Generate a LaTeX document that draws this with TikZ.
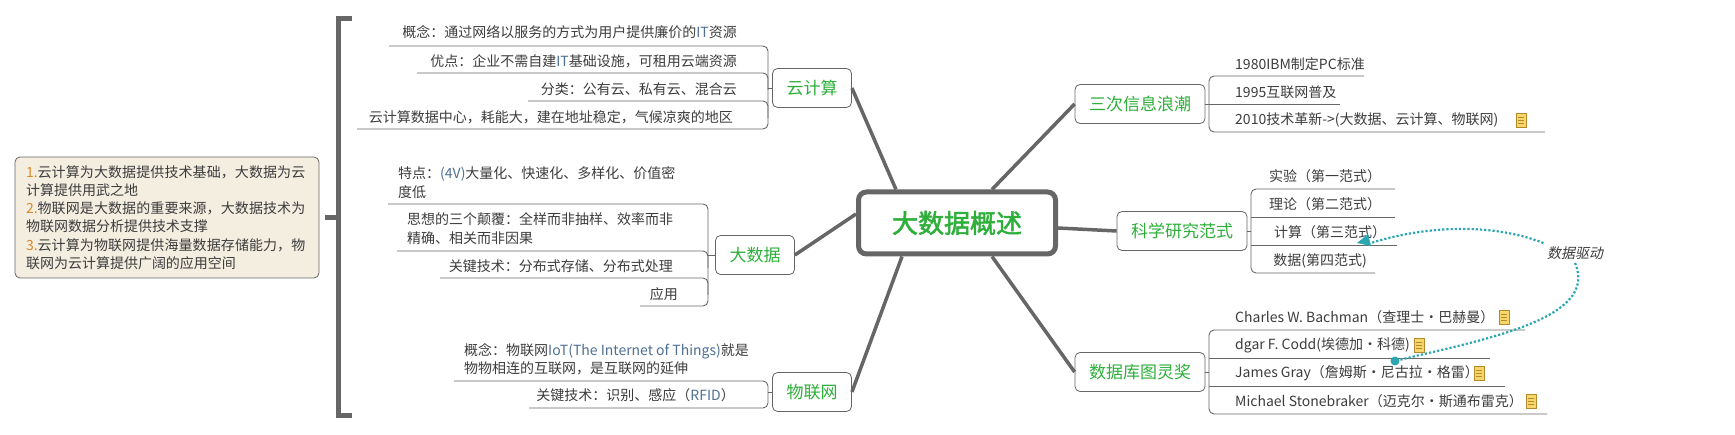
\documentclass[tikz,border=0pt]{standalone}
\usepackage{fontspec}
\usepackage{tikz}
\usepackage{xcolor}
\usetikzlibrary{arrows.meta}
\XeTeXlinebreaklocale "zh"
\XeTeXlinebreakskip=0pt plus 1pt
\newfontfamily\cjk{Noto Sans CJK SC}
\newfontfamily\cjkb[FakeBold=2]{Noto Sans CJK SC}
\newfontfamily\cjki[FakeSlant=0.2]{Noto Sans CJK SC}
\definecolor{linegray}{HTML}{666666}
\definecolor{textgray}{HTML}{3C3C3C}
\definecolor{topicgreen}{HTML}{2DAF3A}
\definecolor{latinblue}{HTML}{4D6F93}
\definecolor{numorange}{HTML}{D88A2A}
\definecolor{notefill}{HTML}{F4EEE1}
\definecolor{driveteal}{HTML}{2AA7B0}
\definecolor{iconyellow}{HTML}{F6D66B}
\definecolor{iconbrown}{HTML}{B58A2A}
\newcommand{\lt}[1]{\textcolor{latinblue}{#1}}
\newcommand{\noteicon}[1]{%
\draw[iconbrown,fill=iconyellow,line width=0.8pt] (#1) +(-5,-7) rectangle +(5,7);
\draw[iconbrown,line width=0.7pt] (#1) +(-3,-3) -- +(3,-3) (#1) +(-3,0) -- +(3,0) (#1) +(-3,3) -- +(3,3);}
\tikzset{
topic/.style={draw=linegray,line width=0.8pt,rounded corners=5pt,fill=white,
  font=\cjk\fontsize{17}{20}\selectfont,text=topicgreen,minimum height=39pt,inner xsep=14pt},
leaf/.style={font=\cjk\fontsize{14}{19}\selectfont,text=textgray,inner sep=0pt,align=left},
branch/.style={draw=linegray,line width=3.5pt},
rail/.style={draw=linegray,line width=0.9pt,rounded corners=5pt},
drivelink/.style={draw=driveteal,line width=2.2pt,dotted},
}
\begin{document}
\begin{tikzpicture}[x=1pt,y=-1pt]
\useasboundingbox (0,0) rectangle (1735,435);
% centre
\node[draw=linegray,line width=5pt,rounded corners=8pt,fill=white,minimum width=197pt,minimum height=62pt,
  font=\cjkb\fontsize{26}{30}\selectfont,text=topicgreen] (c) at (957,223) {大数据概述};
% topics
\node[topic] (cloud) at (812,88) {云计算};
\node[topic] (bigd) at (755,255) {大数据};
\node[topic] (iot) at (812,392) {物联网};
\node[topic] (wave) at (1140,104) {三次信息浪潮};
\node[topic] (para) at (1182,231) {科学研究范式};
\node[topic] (turing) at (1140,372) {数据库图灵奖};
% branches
\draw[branch] (cloud.east) -- ([xshift=40pt]c.north west);
\draw[branch] (bigd.east) -- ([yshift=9pt]c.west);
\draw[branch] (iot.east) -- ([xshift=46pt]c.south west);
\draw[branch] (wave.west) -- ([xshift=-66pt]c.north east);
\draw[branch] (para.west) -- ([yshift=-5pt]c.east);
\draw[branch] (turing.west) -- ([xshift=-66pt]c.south east);
% cloud items
\node[leaf,anchor=east] (cl1) at (737,32) {概念：通过网络以服务的方式为用户提供廉价的\lt{IT}资源};
\node[leaf,anchor=east] (cl2) at (737,61) {优点：企业不需自建\lt{IT}基础设施，可租用云端资源};
\node[leaf,anchor=east] (cl3) at (737,89) {分类：公有云、私有云、混合云};
\node[leaf,anchor=east] (cl4) at (733,117) {云计算数据中心，耗能大，建在地址稳定，气候凉爽的地区};
\draw[rail] (389,46) -- (768,46) -- (768,129) -- (357,129);
\draw[rail] (417,73) -- (768,73) -- (768,90);
\draw[rail] (528,101) -- (768,101) -- (768,118);
\draw[rail] (cloud.west) -- (768,88);
% big data items
\node[leaf,anchor=west] (bd1) at (398,183) {特点：\lt{(4V)}大量化、快速化、多样化、价值密\\度低};
\node[leaf,anchor=west] (bd2) at (407,229) {思想的三个颠覆：全样而非抽样、效率而非\\精确、相关而非因果};
\node[leaf,anchor=east] (bd3) at (673,266) {关键技术：分布式存储、分布式处理};
\node[leaf,anchor=east] (bd4) at (678,294) {应用};
\draw[rail] (388,204) -- (708,204) -- (708,306) -- (640,306);
\draw[rail] (397,251) -- (708,251) -- (708,268);
\draw[rail] (440,278) -- (708,278) -- (708,295);
\draw[rail] (bigd.west) -- (708,255);
% iot items
\node[leaf,anchor=west,font=\cjk\fontsize{14}{18}\selectfont] (io1) at (464,359) {概念：物联网\lt{IoT(The Internet of Things)}就是\\物物相连的互联网，是互联网的延伸};
\node[leaf,anchor=east] (io2) at (735,395) {关键技术：识别、感应（\lt{RFID}）};
\draw[rail] (454,381) -- (768,381) -- (768,408) -- (529,408);
\draw[rail] (iot.west) -- (768,392);
% left bracket and note
\draw[linegray,line width=5pt] (352,19) -- (338,19) -- (338,416) -- (352,416);
\node[draw=linegray,line width=0.8pt,rounded corners=5pt,fill=notefill,minimum width=304pt,minimum height=121pt,
  text width=282pt,font=\cjk\fontsize{14}{18.3}\selectfont,text=textgray,align=left] (note) at (167,217.5)
  {\textcolor{numorange}{1.}云计算为大数据提供技术基础，大数据为云计算提供用武之地\\
   \textcolor{numorange}{2.}物联网是大数据的重要来源，大数据技术为物联网数据分析提供技术支撑\\
   \textcolor{numorange}{3.}云计算为物联网提供海量数据存储能力，物联网为云计算提供广阔的应用空间};
\draw[linegray,line width=5pt] ([xshift=6pt]note.east) -- ++(14,0);
% waves
\node[leaf,anchor=west] (wv1) at (1235,64) {1980IBM制定PC标准};
\node[leaf,anchor=west] (wv2) at (1235,92) {1995互联网普及};
\node[leaf,anchor=west] (wv3) at (1235,120) {2010技术革新->(大数据、云计算、物联网)};
\draw[rail] (1364,76) -- (1209,76) -- (1209,132) -- (1545,132);
\draw[rail] (1340,104) -- (wave.east);
\noteicon{1521,120}
% paradigms
\node[leaf] (pa1) at (1325,176) {实验（第一范式）};
\node[leaf] (pa2) at (1325,204) {理论（第二范式）};
\node[leaf] (pa3) at (1330,232) {计算（第三范式）};
\node[leaf] (pa4) at (1320,261) {数据(第四范式)};
\draw[rail] (1395,189) -- (1251,189) -- (1251,273) -- (1375,273);
\draw[rail] (1395,217) -- (1251,217);
\draw[rail] (1397,245) -- (1251,245);
\draw[rail] (para.east) -- (1251,231);
% turing award
\node[leaf,anchor=west] (tu1) at (1235,317) {Charles W. Bachman（查理士·巴赫曼）};
\node[leaf,anchor=west] (tu2) at (1235,345) {dgar F. Codd(埃德加·科德)};
\node[leaf,anchor=west] (tu3) at (1235,373) {James Gray（詹姆斯·尼古拉·格雷）};
\node[leaf,anchor=west] (tu4) at (1235,401) {Michael Stonebraker（迈克尔·斯通布雷克）};
\draw[rail] (1525,330) -- (1209,330) -- (1209,414) -- (1547,414);
\draw[rail] (1490,358) -- (1209,358);
\draw[rail] (1505,386) -- (1209,386);
\draw[rail] (turing.east) -- (1209,372);
\noteicon{1504,317}
\noteicon{1419,345}
\noteicon{1479,373}
\noteicon{1531,401}
% data driven
\node[font=\cjki\fontsize{14}{18}\selectfont,text=textgray] (drive) at (1575,253) {数据驱动};
\coordinate (ctip) at (1357,243);
\coordinate (jdot) at (1395,361);
\draw[drivelink] (drive.north west) .. controls (1490,222) and (1420,226) .. ([xshift=8pt,yshift=-2pt]ctip);
\fill[driveteal] (ctip) -- ++(11,-9) -- ++(3,12) -- cycle;
\draw[drivelink] (drive.south) .. controls (1600,320) and (1480,340) .. (jdot);
\fill[driveteal] (jdot) circle (4.5pt);
\end{tikzpicture}
\end{document}
